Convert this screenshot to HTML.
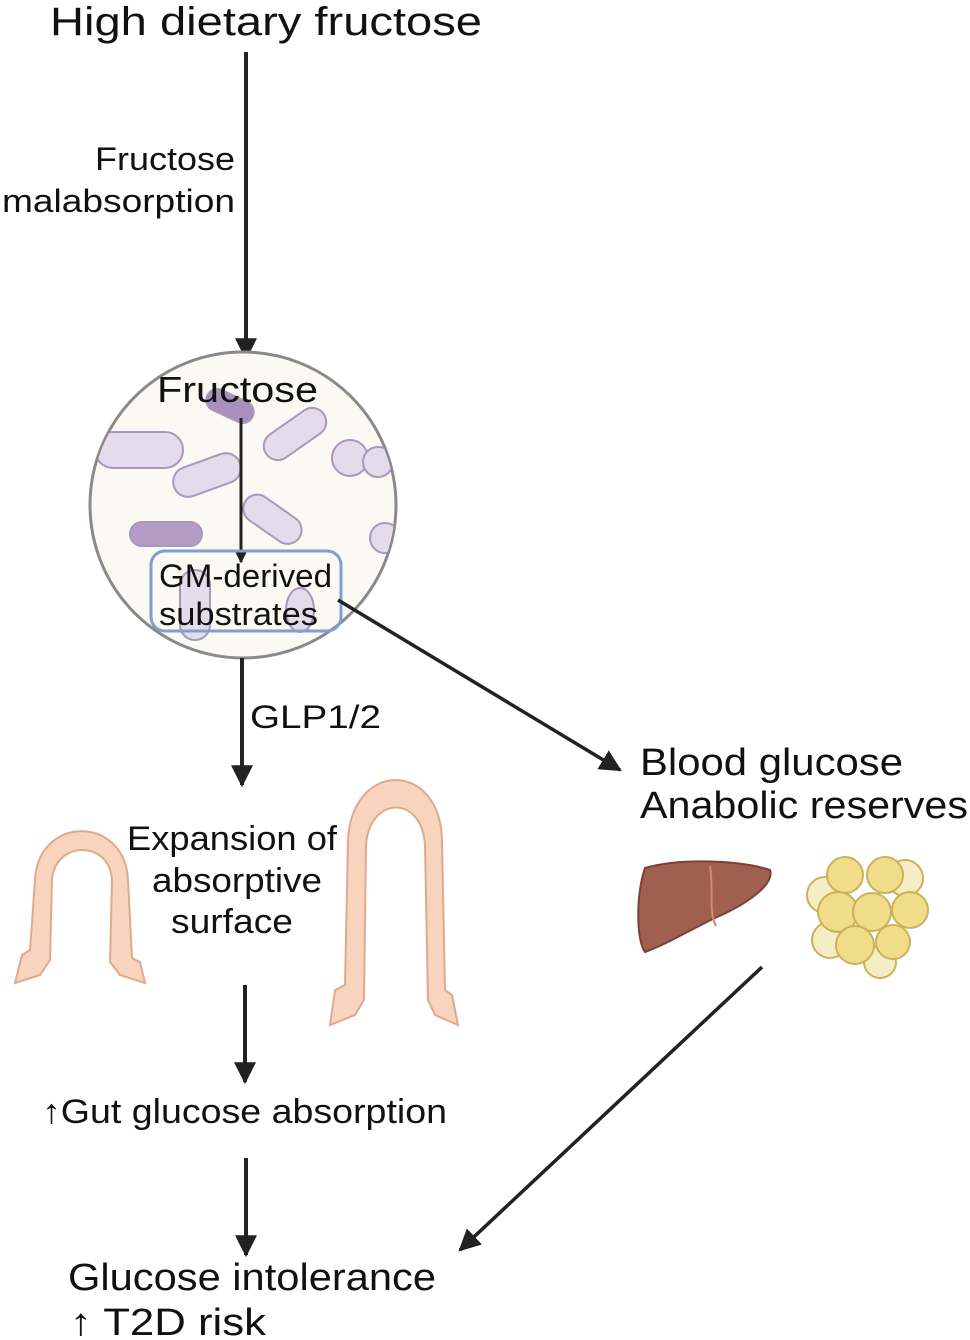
<!DOCTYPE html>
<html><head><meta charset="utf-8"><style>
html,body{margin:0;padding:0;background:#fff}
svg{display:block}
text{font-family:"Liberation Sans",sans-serif;fill:#111}
</style></head><body>
<svg width="970" height="1340" viewBox="0 0 970 1340" xmlns="http://www.w3.org/2000/svg">
<defs>
<marker id="ah" viewBox="0 0 10 10" markerWidth="14" markerHeight="14" refX="9" refY="5" orient="auto" markerUnits="userSpaceOnUse">
<path d="M0,0 L10,5 L0,10 z" fill="#222"/></marker>
<marker id="ah2" viewBox="0 0 10 10" markerWidth="22" markerHeight="22" refX="9" refY="5" orient="auto" markerUnits="userSpaceOnUse">
<path d="M0,0 L10,5 L0,10 z" fill="#222"/></marker>
<clipPath id="cc"><circle cx="243" cy="505" r="152"/></clipPath>
</defs>

<text x="50" y="35" font-size="40" textLength="432" lengthAdjust="spacingAndGlyphs">High dietary fructose</text>
<text x="95" y="170" font-size="32" textLength="140" lengthAdjust="spacingAndGlyphs">Fructose</text>
<text x="2" y="212" font-size="32" textLength="233" lengthAdjust="spacingAndGlyphs">malabsorption</text>
<line x1="246" y1="52" x2="246" y2="358" stroke="#222" stroke-width="4" marker-end="url(#ah2)"/>

<circle cx="243" cy="505" r="153" fill="#fbf9f4" stroke="#8a8a8a" stroke-width="3"/>
<g clip-path="url(#cc)" fill="#e4dcea" stroke="#a898bc" stroke-width="2">
<rect x="95" y="432" width="88" height="36" rx="18"/>
<rect x="172" y="460" width="70" height="30" rx="15" transform="rotate(-20 207 475)"/>
<rect x="260" y="420" width="70" height="28" rx="14" transform="rotate(-35 295 434)"/>
<rect x="240" y="505" width="65" height="28" rx="14" transform="rotate(35 272 519)"/>
<rect x="130" y="522" width="72" height="24" rx="12" fill="#b59cc6"/>
<rect x="205" y="395" width="50" height="22" rx="11" fill="#a88fbd" transform="rotate(25 230 406)"/>
<circle cx="350" cy="458" r="18"/><circle cx="378" cy="462" r="15"/>
<circle cx="385" cy="538" r="15"/>
<rect x="180" y="570" width="30" height="70" rx="15"/>
<ellipse cx="300" cy="610" rx="14" ry="22"/>
</g>
<text x="157" y="402" font-size="36" textLength="161" lengthAdjust="spacingAndGlyphs">Fructose</text>
<line x1="241" y1="418" x2="241" y2="562" stroke="#222" stroke-width="3" marker-end="url(#ah)"/>
<rect x="151" y="551" width="190" height="80" rx="14" fill="none" stroke="#7f9fcc" stroke-width="3"/>
<text x="159" y="587" font-size="32" textLength="173" lengthAdjust="spacingAndGlyphs">GM-derived</text>
<text x="159" y="625" font-size="32" textLength="159" lengthAdjust="spacingAndGlyphs">substrates</text>

<line x1="242" y1="658" x2="242" y2="785" stroke="#222" stroke-width="4" marker-end="url(#ah2)"/>
<text x="250" y="728" font-size="32" textLength="131" lengthAdjust="spacingAndGlyphs">GLP1/2</text>
<line x1="338" y1="600" x2="620" y2="770" stroke="#222" stroke-width="3.5" marker-end="url(#ah2)"/>

<text x="640" y="775" font-size="38" textLength="263" lengthAdjust="spacingAndGlyphs">Blood glucose</text>
<text x="640" y="818" font-size="38" textLength="328" lengthAdjust="spacingAndGlyphs">Anabolic reserves</text>

<path d="M645,868 C680,858 740,860 770,870 C775,885 745,905 715,918 C690,930 665,945 645,952 C636,940 636,895 645,868 Z" fill="#a0604f" stroke="#7a4234" stroke-width="2"/>
<path d="M710,866 C714,890 708,910 716,926" stroke="#d08a72" stroke-width="2" fill="none"/>

<g stroke="#c9b25a" stroke-width="2" fill="#f1dc8a">
<circle cx="825" cy="895" r="18" fill="#f7edc4"/><circle cx="905" cy="878" r="18" fill="#f7edc4"/>
<circle cx="830" cy="940" r="18" fill="#f7edc4"/><circle cx="880" cy="962" r="16" fill="#f7edc4"/>
<circle cx="845" cy="875" r="18"/><circle cx="885" cy="875" r="18"/>
<circle cx="838" cy="912" r="20"/><circle cx="872" cy="912" r="19"/>
<circle cx="910" cy="910" r="18"/><circle cx="855" cy="945" r="19"/>
<circle cx="893" cy="942" r="17"/>
</g>

<g fill="#f8d3bd" stroke="#e0a98c" stroke-width="2">
<path d="M15,983 L22,955 L30,950 L35,880 C38,815 125,815 128,880 L132,958 L140,962 L145,983 L120,975 L110,962 L112,880 C110,840 55,840 52,880 L50,960 L40,975 Z"/>
<path d="M330,1025 L335,990 L345,985 L348,840 C352,760 440,760 442,840 L445,990 L452,995 L458,1025 L435,1015 L428,1000 L425,845 C422,795 370,795 366,845 L364,1000 L355,1015 Z"/>
</g>

<text x="127" y="850" font-size="34" textLength="210" lengthAdjust="spacingAndGlyphs">Expansion of</text>
<text x="152" y="892" font-size="34" textLength="170" lengthAdjust="spacingAndGlyphs">absorptive</text>
<text x="171" y="933" font-size="34" textLength="122" lengthAdjust="spacingAndGlyphs">surface</text>

<line x1="245" y1="985" x2="245" y2="1082" stroke="#222" stroke-width="4" marker-end="url(#ah2)"/>
<text x="42" y="1123" font-size="34" textLength="405" lengthAdjust="spacingAndGlyphs">↑Gut glucose absorption</text>
<line x1="246" y1="1158" x2="246" y2="1255" stroke="#222" stroke-width="4" marker-end="url(#ah2)"/>
<line x1="762" y1="967" x2="460" y2="1250" stroke="#222" stroke-width="3.5" marker-end="url(#ah2)"/>

<text x="68" y="1290" font-size="38" textLength="368" lengthAdjust="spacingAndGlyphs">Glucose intolerance</text>
<text x="70" y="1335" font-size="38" textLength="196" lengthAdjust="spacingAndGlyphs">↑ T2D risk</text>
</svg>
</body></html>
